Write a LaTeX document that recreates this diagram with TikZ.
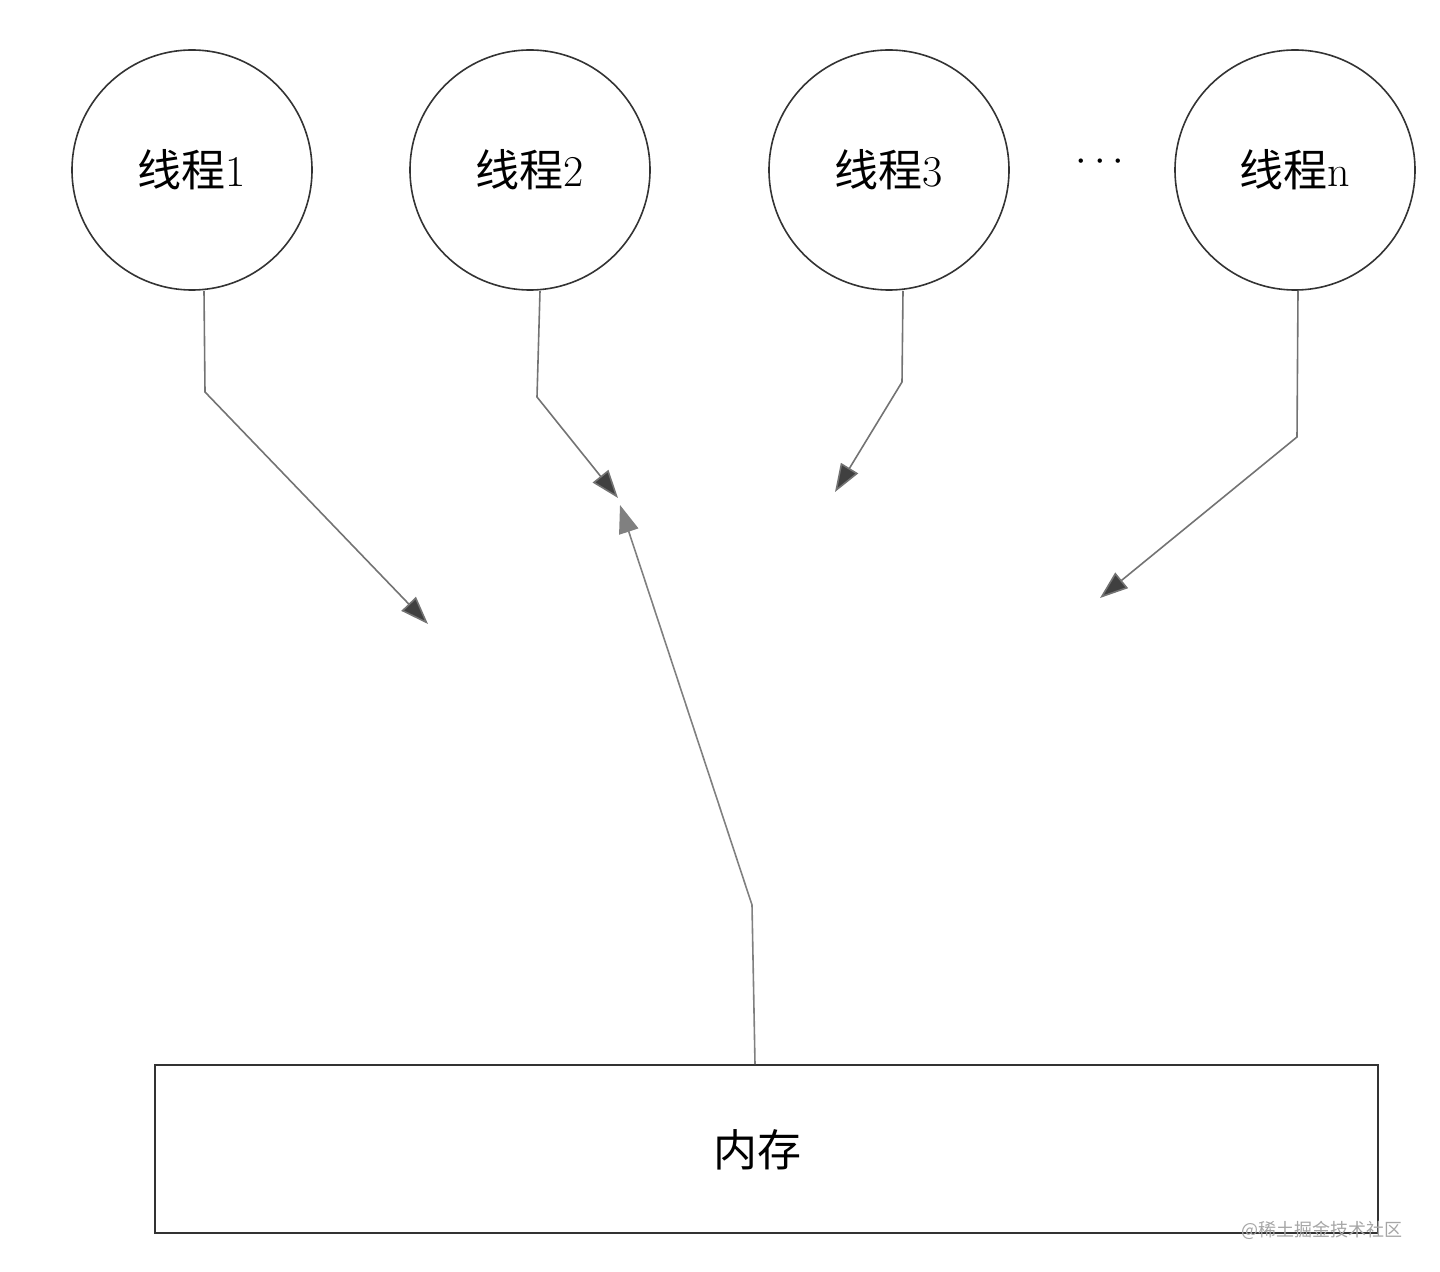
\documentclass[tikz,border=0pt]{standalone}
\usepackage{fontspec}
\newfontfamily\cjk{Noto Sans CJK SC}
\usetikzlibrary{arrows.meta,positioning}
\begin{document}
\begin{tikzpicture}[x=0.5pt,y=0.5pt,yscale=-1,
	thread/.style={draw=black!80,line width=0.8pt,circle,minimum size=120pt,inner sep=0pt,font=\fontsize{22}{26}\selectfont},
	link/.style={draw=black!55,line width=0.8pt,-{Triangle[length=14pt,width=10pt,fill=black!75]}},
	uplink/.style={draw=black!50,line width=0.8pt,-{Triangle[length=14pt,width=10pt,fill=black!50]}}]
		\useasboundingbox (0,0) rectangle (1440,1272);
		
		% threads
		\node[thread] (t1) at (192,170) {{\cjk 线程}1};
		\node[thread] (t2) at (530,170) {{\cjk 线程}2};
		\node[thread] (t3) at (889,170) {{\cjk 线程}3};
		\node[thread] (tn) at (1295,170) {{\cjk 线程}n};
		\node[font=\fontsize{22}{26}\selectfont] (dots) at (1100,162) {$\cdots$};
		
		% memory
		\node[draw=black!80,line width=0.8pt,minimum width=611.5pt,minimum height=84pt] (mem) at (766.5,1149) {};
		\node[font=\fontsize{22}{26}\selectfont\cjk] (memtext) at (757,1150) {内存};
		
		% bend points and arrow ends
		\coordinate (b1) at (205,392);  \coordinate (e1) at (428,624);
		\coordinate (b2) at (537,397);  \coordinate (e2) at (618,498);
		\coordinate (b3) at (902,382);  \coordinate (e3) at (835,492);
		\coordinate (bn) at (1297,437); \coordinate (en) at (1100,598);
		\coordinate (bm) at (752,905);  \coordinate (em) at (620,505);
		
		\draw[link] (t1.south -| 204,0) -- (b1) -- (e1);
		\draw[link] (t2.south -| 540,0) -- (b2) -- (e2);
		\draw[link] (t3.south -| 903,0) -- (b3) -- (e3);
		\draw[link] (tn.south -| 1298,0) -- (bn) -- (en);
		\draw[uplink] (mem.north -| 755,0) -- (bm) -- (em);
		
		% watermark
		\node[text=black!35,font=\fontsize{9}{11}\selectfont\cjk,anchor=east] (wm) at (1410,1230) {@稀土掘金技术社区};
\end{tikzpicture}
\end{document}
